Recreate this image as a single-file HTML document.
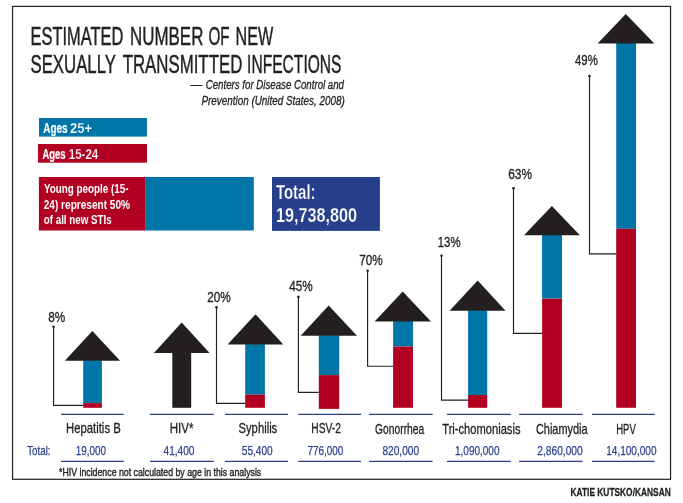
<!DOCTYPE html>
<html><head><meta charset="utf-8"><title>Estimated number of new sexually transmitted infections</title>
<style>html,body{margin:0;padding:0;background:#fff}svg{display:block}text{font-family:"Liberation Sans",sans-serif}</style>
</head><body>
<svg width="683" height="503" viewBox="0 0 683 503">
<rect width="683" height="503" fill="#fff"/>
<rect x="12.55" y="6.4" width="658" height="472.9" fill="none" stroke="#231f20" stroke-width="1.2"/>
<text x="30.55" y="44.6" font-size="25.0" text-anchor="start" font-weight="normal" font-style="normal" fill="#231f20" textLength="92.7" lengthAdjust="spacingAndGlyphs" stroke="#231f20" stroke-width="0.45">ESTIMATED</text>
<text x="130.05" y="44.6" font-size="25.0" text-anchor="start" font-weight="normal" font-style="normal" fill="#231f20" textLength="73.3" lengthAdjust="spacingAndGlyphs" stroke="#231f20" stroke-width="0.45">NUMBER</text>
<text x="208.4" y="44.6" font-size="25.0" text-anchor="start" font-weight="normal" font-style="normal" fill="#231f20" textLength="21.1" lengthAdjust="spacingAndGlyphs" stroke="#231f20" stroke-width="0.45">OF</text>
<text x="235.55" y="44.6" font-size="25.0" text-anchor="start" font-weight="normal" font-style="normal" fill="#231f20" textLength="37.65" lengthAdjust="spacingAndGlyphs" stroke="#231f20" stroke-width="0.45">NEW</text>
<text x="30.5" y="72.7" font-size="25.0" text-anchor="start" font-weight="normal" font-style="normal" fill="#231f20" textLength="85.45" lengthAdjust="spacingAndGlyphs" stroke="#231f20" stroke-width="0.45">SEXUALLY</text>
<text x="122.7" y="72.7" font-size="25.0" text-anchor="start" font-weight="normal" font-style="normal" fill="#231f20" textLength="119.6" lengthAdjust="spacingAndGlyphs" stroke="#231f20" stroke-width="0.45">TRANSMITTED</text>
<text x="247.1" y="72.7" font-size="25.0" text-anchor="start" font-weight="normal" font-style="normal" fill="#231f20" textLength="94.4" lengthAdjust="spacingAndGlyphs" stroke="#231f20" stroke-width="0.45">INFECTIONS</text>
<text x="190.5" y="89.4" font-size="12.5" text-anchor="start" font-weight="normal" font-style="italic" fill="#231f20" textLength="12.0" lengthAdjust="spacingAndGlyphs">—</text>
<text x="205.75" y="89.4" font-size="12.5" text-anchor="start" font-weight="normal" font-style="italic" fill="#231f20" textLength="138.25" lengthAdjust="spacingAndGlyphs" stroke="#231f20" stroke-width="0.3">Centers for Disease Control and</text>
<text x="201.5" y="104.8" font-size="12.5" text-anchor="start" font-weight="normal" font-style="italic" fill="#231f20" textLength="143.25" lengthAdjust="spacingAndGlyphs" stroke="#231f20" stroke-width="0.3">Prevention (United States, 2008)</text>
<rect x="39" y="118" width="108" height="18.6" fill="#0076a8"/>
<rect x="38" y="144" width="109" height="18.7" fill="#b10022"/>
<text x="43.25" y="132.5" font-size="14" text-anchor="start" font-weight="bold" font-style="normal" fill="#fff" textLength="24.25" lengthAdjust="spacingAndGlyphs" stroke="#fff" stroke-width="0.2">Ages</text>
<text x="70.0" y="132.5" font-size="14" text-anchor="start" font-weight="bold" font-style="normal" fill="#fff" textLength="22.0" lengthAdjust="spacingAndGlyphs" stroke="#0076a8" stroke-width="0.25">25+</text>
<text x="42.5" y="158.5" font-size="14" text-anchor="start" font-weight="bold" font-style="normal" fill="#fff" textLength="23.0" lengthAdjust="spacingAndGlyphs" stroke="#fff" stroke-width="0.2">Ages</text>
<text x="68.75" y="158.5" font-size="14" text-anchor="start" font-weight="bold" font-style="normal" fill="#fff" textLength="29.5" lengthAdjust="spacingAndGlyphs" stroke="#b10022" stroke-width="0.25">15-24</text>
<rect x="38.9" y="177" width="106.2" height="53.5" fill="#b10022"/>
<rect x="145.1" y="177" width="108.7" height="53.5" fill="#0076a8"/>
<text x="44.0" y="193.4" font-size="12.6" text-anchor="start" font-weight="bold" font-style="normal" fill="#fff" textLength="84.5" lengthAdjust="spacingAndGlyphs">Young people (15-</text>
<text x="43.75" y="208.9" font-size="12.6" text-anchor="start" font-weight="bold" font-style="normal" fill="#fff" textLength="86.25" lengthAdjust="spacingAndGlyphs">24) represent 50%</text>
<text x="43.75" y="223.8" font-size="12.6" text-anchor="start" font-weight="bold" font-style="normal" fill="#fff" textLength="68.0" lengthAdjust="spacingAndGlyphs">of all new STIs</text>
<rect x="272" y="177" width="107.9" height="53.9" fill="#27408b"/>
<text x="276.0" y="198.9" font-size="20.2" text-anchor="start" font-weight="bold" font-style="normal" fill="#fff" textLength="39.5" lengthAdjust="spacingAndGlyphs" stroke="#27408b" stroke-width="0.25">Total:</text>
<text x="276.0" y="221.8" font-size="20.2" text-anchor="start" font-weight="bold" font-style="normal" fill="#fff" textLength="81.0" lengthAdjust="spacingAndGlyphs" stroke="#27408b" stroke-width="0.25">19,738,800</text>
<rect x="83.2" y="360.2" width="18.7" height="42.9" fill="#0076a8"/>
<rect x="83.2" y="403.1" width="18.7" height="4.7" fill="#b10022"/>
<path d="M53.6 326.7V405.3H83.2" fill="none" stroke="#231f20" stroke-width="1.15"/>
<circle cx="53.6" cy="326.7" r="1.3" fill="#231f20"/>
<text x="48.25" y="321.90000000000003" font-size="14.9" text-anchor="start" font-weight="normal" font-style="normal" fill="#231f20" textLength="17.0" lengthAdjust="spacingAndGlyphs" stroke="#231f20" stroke-width="0.35">8%</text>
<path d="M92.4 331L120.1 360.7H64.8Z" fill="#231f20"/>
<rect x="172.3" y="352.4" width="18.9" height="55.4" fill="#231f20"/>
<path d="M181.7 322.6L209.6 352.9H153.9Z" fill="#231f20"/>
<rect x="245.2" y="344.1" width="19.7" height="50.5" fill="#0076a8"/>
<rect x="245.2" y="394.6" width="19.7" height="13.2" fill="#b10022"/>
<path d="M216.5 307.3V403.3H245.2" fill="none" stroke="#231f20" stroke-width="1.15"/>
<circle cx="216.5" cy="307.3" r="1.3" fill="#231f20"/>
<text x="207.25" y="301.8" font-size="14.9" text-anchor="start" font-weight="normal" font-style="normal" fill="#231f20" textLength="23.5" lengthAdjust="spacingAndGlyphs" stroke="#231f20" stroke-width="0.35">20%</text>
<path d="M255.5 314.2L283.3 344.6H227.6Z" fill="#231f20"/>
<rect x="318.8" y="335.2" width="20.4" height="39.9" fill="#0076a8"/>
<rect x="318.8" y="375.1" width="20.4" height="33.8" fill="#b10022"/>
<path d="M298.4 296.9V392.3H318.8" fill="none" stroke="#231f20" stroke-width="1.15"/>
<circle cx="298.4" cy="296.9" r="1.3" fill="#231f20"/>
<text x="289.25" y="291.0" font-size="14.9" text-anchor="start" font-weight="normal" font-style="normal" fill="#231f20" textLength="23.5" lengthAdjust="spacingAndGlyphs" stroke="#231f20" stroke-width="0.35">45%</text>
<path d="M328.7 305.5L357 335.7H300.7Z" fill="#231f20"/>
<rect x="393.1" y="321.0" width="19.9" height="25.5" fill="#0076a8"/>
<rect x="393.1" y="346.5" width="19.9" height="61.3" fill="#b10022"/>
<path d="M367.6 270.8V366.2H393.1" fill="none" stroke="#231f20" stroke-width="1.15"/>
<circle cx="367.6" cy="270.8" r="1.3" fill="#231f20"/>
<text x="359.25" y="264.8" font-size="14.9" text-anchor="start" font-weight="normal" font-style="normal" fill="#231f20" textLength="23.5" lengthAdjust="spacingAndGlyphs" stroke="#231f20" stroke-width="0.35">70%</text>
<path d="M402.7 291.4L431 321.5H374.6Z" fill="#231f20"/>
<rect x="468.1" y="310.2" width="19.1" height="84.8" fill="#0076a8"/>
<rect x="468.1" y="395" width="19.1" height="12.8" fill="#b10022"/>
<path d="M441.5 255.8V400.1H468.1" fill="none" stroke="#231f20" stroke-width="1.15"/>
<circle cx="441.5" cy="255.8" r="1.3" fill="#231f20"/>
<text x="437.75" y="246.7" font-size="14.9" text-anchor="start" font-weight="normal" font-style="normal" fill="#231f20" textLength="22.75" lengthAdjust="spacingAndGlyphs" stroke="#231f20" stroke-width="0.35">13%</text>
<path d="M477.7 280.4L505.5 310.7H449.6Z" fill="#231f20"/>
<rect x="542.1" y="234.8" width="19.9" height="63.9" fill="#0076a8"/>
<rect x="542.1" y="298.7" width="19.9" height="109.1" fill="#b10022"/>
<path d="M513.5 188.2V333.3H542.1" fill="none" stroke="#231f20" stroke-width="1.15"/>
<circle cx="513.5" cy="188.2" r="1.3" fill="#231f20"/>
<text x="508.25" y="179.2" font-size="14.9" text-anchor="start" font-weight="normal" font-style="normal" fill="#231f20" textLength="23.75" lengthAdjust="spacingAndGlyphs" stroke="#231f20" stroke-width="0.35">63%</text>
<path d="M551.9 206.1L579.9 235.3H524Z" fill="#231f20"/>
<rect x="616.2" y="42.9" width="19.8" height="185.9" fill="#0076a8"/>
<rect x="616.2" y="228.8" width="19.8" height="179.0" fill="#b10022"/>
<path d="M589.5 76V253.9H616.2" fill="none" stroke="#231f20" stroke-width="1.15"/>
<circle cx="589.5" cy="76" r="1.3" fill="#231f20"/>
<text x="575.0" y="64.89999999999999" font-size="14.9" text-anchor="start" font-weight="normal" font-style="normal" fill="#231f20" textLength="22.75" lengthAdjust="spacingAndGlyphs" stroke="#231f20" stroke-width="0.35">49%</text>
<path d="M625.8 14L654.3 43.4H597.6Z" fill="#231f20"/>
<path d="M61 414.4H123.8M61 461.3H123.8" stroke="#2b3f8e" stroke-width="1.2" fill="none"/>
<text x="66.0" y="432.8" font-size="14.5" text-anchor="start" font-weight="normal" font-style="normal" fill="#231f20" textLength="54.75" lengthAdjust="spacingAndGlyphs" stroke="#231f20" stroke-width="0.3">Hepatitis B</text>
<text x="75.75" y="455.2" font-size="13" text-anchor="start" font-weight="normal" font-style="normal" fill="#2b3f8e" textLength="30.25" lengthAdjust="spacingAndGlyphs" stroke="#2b3f8e" stroke-width="0.25">19,000</text>
<path d="M150 414.4H213.9M150 461.3H213.9" stroke="#2b3f8e" stroke-width="1.2" fill="none"/>
<text x="169.75" y="432.8" font-size="14.5" text-anchor="start" font-weight="normal" font-style="normal" fill="#231f20" textLength="23.75" lengthAdjust="spacingAndGlyphs" stroke="#231f20" stroke-width="0.3">HIV*</text>
<text x="163.5" y="455.2" font-size="13" text-anchor="start" font-weight="normal" font-style="normal" fill="#2b3f8e" textLength="31.0" lengthAdjust="spacingAndGlyphs" stroke="#2b3f8e" stroke-width="0.25">41,400</text>
<path d="M225 414.4H288M225 461.3H288" stroke="#2b3f8e" stroke-width="1.2" fill="none"/>
<text x="238.5" y="432.8" font-size="14.5" text-anchor="start" font-weight="normal" font-style="normal" fill="#231f20" textLength="38.75" lengthAdjust="spacingAndGlyphs" stroke="#231f20" stroke-width="0.3">Syphilis</text>
<text x="241.75" y="455.2" font-size="13" text-anchor="start" font-weight="normal" font-style="normal" fill="#2b3f8e" textLength="31.0" lengthAdjust="spacingAndGlyphs" stroke="#2b3f8e" stroke-width="0.25">55,400</text>
<path d="M298.2 414.4H361M298.2 461.3H361" stroke="#2b3f8e" stroke-width="1.2" fill="none"/>
<text x="311.25" y="432.8" font-size="14.5" text-anchor="start" font-weight="normal" font-style="normal" fill="#231f20" textLength="29.75" lengthAdjust="spacingAndGlyphs" stroke="#231f20" stroke-width="0.3">HSV-2</text>
<text x="307.5" y="455.2" font-size="13" text-anchor="start" font-weight="normal" font-style="normal" fill="#2b3f8e" textLength="35.75" lengthAdjust="spacingAndGlyphs" stroke="#2b3f8e" stroke-width="0.25">776,000</text>
<path d="M369.1 414.4H432.6M369.1 461.3H432.6" stroke="#2b3f8e" stroke-width="1.2" fill="none"/>
<text x="375.0" y="433.5" font-size="14.5" text-anchor="start" font-weight="normal" font-style="normal" fill="#231f20" textLength="49.25" lengthAdjust="spacingAndGlyphs" stroke="#231f20" stroke-width="0.3">Gonorrhea</text>
<text x="382.5" y="455.2" font-size="13" text-anchor="start" font-weight="normal" font-style="normal" fill="#2b3f8e" textLength="36.5" lengthAdjust="spacingAndGlyphs" stroke="#2b3f8e" stroke-width="0.25">820,000</text>
<path d="M446.9 414.4H510.8M446.9 461.3H510.8" stroke="#2b3f8e" stroke-width="1.2" fill="none"/>
<text x="442.25" y="433.5" font-size="14.5" text-anchor="start" font-weight="normal" font-style="normal" fill="#231f20" textLength="78.25" lengthAdjust="spacingAndGlyphs" stroke="#231f20" stroke-width="0.3">Tri-chomoniasis</text>
<text x="455.0" y="455.2" font-size="13" text-anchor="start" font-weight="normal" font-style="normal" fill="#2b3f8e" textLength="44.5" lengthAdjust="spacingAndGlyphs" stroke="#2b3f8e" stroke-width="0.25">1,090,000</text>
<path d="M519.1 414.4H582.6M519.1 461.3H582.6" stroke="#2b3f8e" stroke-width="1.2" fill="none"/>
<text x="536.0" y="433.5" font-size="14.5" text-anchor="start" font-weight="normal" font-style="normal" fill="#231f20" textLength="51.5" lengthAdjust="spacingAndGlyphs" stroke="#231f20" stroke-width="0.3">Chiamydia</text>
<text x="537.25" y="455.2" font-size="13" text-anchor="start" font-weight="normal" font-style="normal" fill="#2b3f8e" textLength="45.5" lengthAdjust="spacingAndGlyphs" stroke="#2b3f8e" stroke-width="0.25">2,860,000</text>
<path d="M592 414.4H654.7M592 461.3H654.7" stroke="#2b3f8e" stroke-width="1.2" fill="none"/>
<text x="616.25" y="433.5" font-size="14.5" text-anchor="start" font-weight="normal" font-style="normal" fill="#231f20" textLength="19.5" lengthAdjust="spacingAndGlyphs" stroke="#231f20" stroke-width="0.3">HPV</text>
<text x="606.25" y="455.2" font-size="13" text-anchor="start" font-weight="normal" font-style="normal" fill="#2b3f8e" textLength="50.25" lengthAdjust="spacingAndGlyphs" stroke="#2b3f8e" stroke-width="0.25">14,100,000</text>
<text x="27.25" y="455.2" font-size="13" text-anchor="start" font-weight="normal" font-style="normal" fill="#2b3f8e" textLength="23.25" lengthAdjust="spacingAndGlyphs" stroke="#2b3f8e" stroke-width="0.25">Total:</text>
<text x="59.0" y="476.1" font-size="11.3" text-anchor="start" font-weight="normal" font-style="normal" fill="#231f20" textLength="202.25" lengthAdjust="spacingAndGlyphs" stroke="#231f20" stroke-width="0.4">*HIV incidence not calculated by age in this analysis</text>
<text x="570.5" y="495.9" font-size="11.5" text-anchor="start" font-weight="bold" font-style="normal" fill="#231f20" textLength="100.25" lengthAdjust="spacingAndGlyphs" stroke="#231f20" stroke-width="0.3">KATIE KUTSKO/KANSAN</text>
</svg>
</body></html>
